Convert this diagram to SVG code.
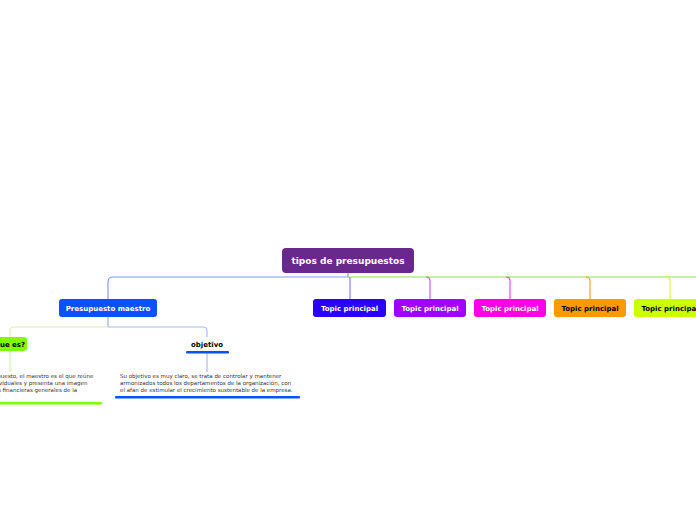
<svg xmlns="http://www.w3.org/2000/svg" width="696" height="520" viewBox="0 0 696 520">
<style>
text{font-family:"DejaVu Sans",Verdana,sans-serif;font-weight:bold}
.t{font-size:7px;fill:#fff;text-anchor:middle}
.s{font-size:5.5px;font-weight:normal;fill:#333}
.c{fill:none;stroke-width:1.2}
</style>
<rect width="696" height="520" fill="#fff"/>
<g id="connectors">
<path class="c" stroke="#7f9cff" d="M348,273 V277 H113 Q108,277 108,282 V299"/>
<path class="c" stroke="#8ce63c" d="M348,277 H696"/>
<path class="c" stroke="#8080ff" d="M350,277 V299"/>
<path class="c" stroke="#c060ff" d="M426,277 Q430,277 430,281 V299"/>
<path class="c" stroke="#ff40f0" d="M506,277 Q510,277 510,281 V299"/>
<path class="c" stroke="#ffa020" d="M586,277 Q590,277 590,281 V299"/>
<path class="c" stroke="#ddff30" d="M666,277 Q670,277 670,281 V299"/>
<path class="c" stroke="#9ab0c8" d="M108,317 V327"/>
<path class="c" stroke="#ddeeb0" d="M108,327 H14 Q10,327 10,331 V337"/>
<path class="c" stroke="#aabbee" d="M108,327 H203 Q207,327 207,331 V337"/>
<path class="c" stroke="#ccff99" d="M10,351 V372"/>
<path class="c" stroke="#aabbee" d="M207,353 V372"/>
</g>
<g id="root"><rect x="282" y="248" width="132" height="25" rx="4" fill="#68288c"/><text x="348" y="264" font-size="9" fill="#fff" text-anchor="middle">tipos de presupuestos</text></g>
<g id="maestro"><rect x="59" y="299" width="98" height="18" rx="3" fill="#0a50ff"/><text class="t" x="108" y="311">Presupuesto maestro</text></g>
<g id="t1"><rect x="313" y="299" width="73" height="18" rx="3" fill="#2a00ff"/><text class="t" x="349.5" y="311">Topic principal</text></g>
<g id="t2"><rect x="394" y="299" width="72" height="18" rx="3" fill="#a000ff"/><text class="t" x="430" y="311">Topic principal</text></g>
<g id="t3"><rect x="474" y="299" width="72" height="18" rx="3" fill="#ff00e6"/><text class="t" x="510" y="311">Topic principal</text></g>
<g id="t4"><rect x="554" y="299" width="72" height="18" rx="3" fill="#ff9900"/><text class="t" x="590" y="311" style="fill:#000">Topic principal</text></g>
<g id="t5"><rect x="634" y="299" width="72" height="18" rx="3" fill="#ccff00"/><text class="t" x="670" y="311" style="fill:#000">Topic principal</text></g>
<g id="quees"><rect x="-20" y="337" width="47" height="14" rx="3" fill="#80ff00"/><text x="10" y="347" font-size="7" text-anchor="middle" fill="#000">que es?</text></g>
<g id="objetivo"><text x="207" y="347" font-size="7" text-anchor="middle" fill="#000">objetivo</text><rect x="186" y="351" width="43" height="2.5" rx="1" fill="#0a50ff"/></g>
<g id="nota1"><text class="s" x="-9" y="378">supuesto, el maestro es el que reúne</text><text class="s" x="-4" y="385">lividuales y presenta una imagen</text><text class="s" x="-2" y="392">s financieras generales de la</text><rect x="-5" y="402" width="107" height="2.5" rx="1" fill="#80ff00"/></g>
<g id="nota2"><text class="s" x="120" y="378">Su objetivo es muy claro, se trata de controlar y mantener</text><text class="s" x="120" y="385">armonizados todos los departamentos de la organización, con</text><text class="s" x="120" y="392">el afán de estimular el crecimiento sustentable de la empresa.</text><rect x="115" y="396" width="185" height="2.5" rx="1" fill="#0a50ff"/></g>
</svg>
